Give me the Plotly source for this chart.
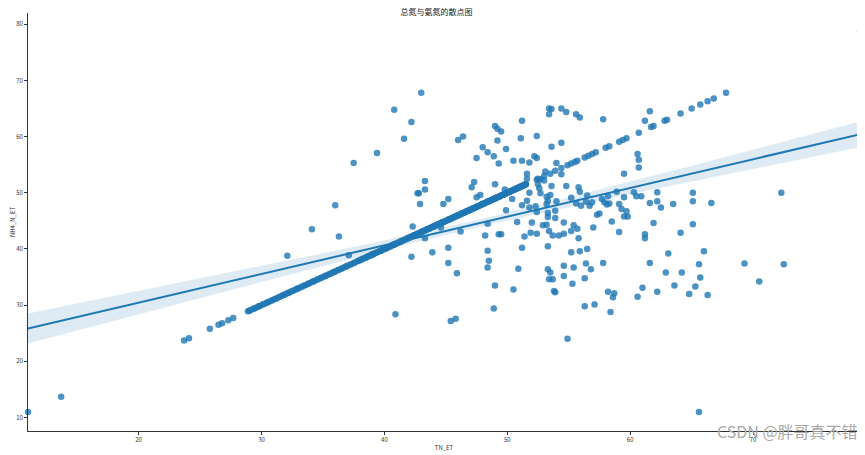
import numpy as np
import plotly.graph_objects as go

# points lying on the NH4 = TN diagonal
tn_line = [11.0, 13.7, 23.7, 24.1, 25.8, 26.5, 26.8, 27.3, 27.7,
           28.9, 29.1, 29.3, 29.5, 29.7, 29.9, 30.2, 30.4, 30.6, 30.9, 31.2,
           31.5, 31.7, 31.9, 32.1, 32.3, 32.6, 32.8, 33.0, 33.3, 33.5, 33.8,
           34.1, 34.3, 34.6, 34.9, 35.1, 35.3, 35.6, 35.8, 36.0, 36.3, 36.5,
           36.8, 37.0, 37.3, 37.5, 37.8, 38.0, 38.3, 38.5, 38.8, 39.0, 39.2,
           39.5, 39.7, 40.0, 40.2, 40.4, 40.7, 40.9, 41.2, 41.4, 41.7, 41.9,
           42.1, 42.4, 42.6, 42.9, 43.1, 43.4, 43.6, 43.9, 44.1, 44.3, 44.6,
           44.8, 45.1, 45.3, 45.6, 45.8, 46.0, 46.3, 46.5, 46.8, 47.0, 47.3,
           47.5, 47.7, 48.0, 48.2, 48.5, 48.7, 49.0, 49.2, 49.4, 49.7, 49.9,
           50.2, 50.4, 50.7, 50.9, 51.1, 51.3, 51.5,
           52.5, 53.0, 54.9, 55.2, 55.5, 55.7, 56.3, 56.6, 56.9, 57.2, 58.0,
           58.3, 59.1, 59.4, 59.7, 60.7, 61.7, 61.9, 62.8, 63.0, 64.1, 65.0,
           65.7, 66.3, 66.8, 67.8, 78.7]
# further passes over the dense part of the diagonal (overlapping markers)
tn_line2 = [29.0, 29.4, 29.8, 30.1, 30.5, 30.8, 31.1, 31.4, 31.8, 32.2, 32.5,
            32.9, 33.2, 33.6, 33.9, 34.2, 34.5, 34.8, 35.2, 35.5, 35.9, 36.2,
            36.6, 36.9, 37.2, 37.6, 37.9, 38.2, 38.6, 38.9, 39.1, 39.4, 39.8,
            40.1, 40.3, 40.6, 40.8, 41.1, 41.3, 41.6, 41.8, 42.0, 42.3, 42.5,
            42.8, 43.0, 43.3, 43.5, 43.8, 44.0, 44.2, 44.5, 44.7, 45.0, 45.2,
            45.5, 45.7, 45.9, 46.2, 46.4, 46.7, 46.9, 47.2, 47.4, 47.6, 47.9,
            48.1, 48.4, 48.6, 48.9, 49.1, 49.3, 49.6, 49.8, 50.1, 50.3, 50.6,
            50.8, 51.0, 51.2, 51.4, 51.5]
tn_line3 = [38.1, 38.7, 39.3, 39.9, 40.5, 41.0, 41.5, 42.2, 42.7, 43.2, 43.7,
            44.4, 44.9, 45.4, 46.1, 46.6, 47.1, 47.8, 48.3, 48.8, 49.5, 50.0,
            50.5, 51.0, 51.3, 51.4, 51.5, 50.9, 50.3, 49.8, 49.2, 48.6, 48.1,
            47.6, 47.0, 46.4, 45.9, 45.3, 44.7, 44.2, 43.6, 43.1, 42.5, 42.0,
            41.4, 40.8, 40.3, 39.7, 39.1, 38.5, 51.2, 50.8, 50.6, 50.1, 49.6,
            49.3, 48.9, 48.5, 48.0, 47.4, 46.9, 46.3, 45.7, 45.2, 44.6, 44.0,
            43.5, 42.9, 42.4, 41.9, 41.3, 40.7, 40.1, 39.6, 39.0, 51.1, 50.7,
            50.2, 49.7, 49.0, 48.4, 47.9, 47.2, 46.7, 46.0, 45.5, 44.8, 44.3]
nh4_line = list(tn_line)
nh4_line2 = list(tn_line2)
nh4_line3 = list(tn_line3)

# scattered points
tn_sc = [43.0, 42.2, 41.6, 53.4, 53.6, 53.4, 54.4, 54.8, 55.6, 55.9, 57.8, 61.6, 61.2,
         51.2, 49.0, 49.2, 49.5, 46.0, 46.4, 51.1, 52.4, 49.2, 48.0, 48.4, 47.5, 48.9,
         49.9, 49.3, 50.5, 51.2, 51.8, 52.2, 52.4, 53.6, 54.4, 54.0, 54.4, 60.6, 60.7,
         60.7, 59.5, 51.6, 51.6, 53.1, 53.5, 53.9, 54.4, 52.4, 52.7, 53.0, 52.5, 52.6,
         52.7, 53.6, 54.8, 55.8, 55.9, 43.3, 43.3, 42.7, 42.9, 47.3, 47.1, 47.5, 47.8,
         49.0, 49.8, 44.8, 45.2, 42.3, 42.2, 43.3, 43.9, 44.6, 45.2, 45.2, 45.9, 46.2,
         45.4, 45.8, 48.4, 48.2, 48.4, 48.5, 48.4, 49.3, 49.5, 49.0, 48.9, 49.9, 50.4,
         50.8, 51.2, 51.2, 50.9, 50.5, 51.4, 51.6, 51.8, 51.8, 52.0, 51.9, 52.3, 52.4,
         52.4, 52.9, 53.2, 53.2, 53.3, 53.2, 53.5, 53.3, 53.3, 53.9, 53.9, 53.4, 53.7,
         54.2, 54.6, 54.6, 54.0, 53.3, 53.3, 53.5, 53.4, 53.7, 53.8, 53.9, 54.6, 54.6,
         54.9, 55.3, 55.4, 55.2, 55.2, 55.4, 55.7, 55.8, 55.9, 55.2, 55.6, 56.0, 56.4,
         56.3, 56.5, 56.8, 56.3, 57.1, 56.4, 56.5, 56.7, 56.9, 57.0, 57.3, 57.5, 57.7,
         57.9, 58.1, 58.2, 58.3, 57.8, 58.5, 59.1, 58.2, 58.7, 58.6, 58.4, 58.9, 59.1,
         59.3, 59.5, 59.5, 59.7, 59.8, 60.3, 60.5, 60.9, 61.6, 61.9, 62.2, 62.2, 62.5,
         63.5, 61.2, 61.2, 61.6, 61.0, 60.6, 62.2, 62.9, 63.1, 64.1, 64.2, 63.6, 64.8,
         65.3, 65.6, 65.7, 66.0, 66.3, 65.1, 65.1, 65.1, 66.6, 65.6, 69.3, 70.5, 72.3,
         72.5, 32.1, 34.1, 36.0, 36.3, 37.1, 37.5, 39.4, 40.8, 40.9, 42.8]
nh4_sc = [67.8, 62.6, 59.6, 65.0, 64.9, 64.0, 65.0, 64.4, 64.0, 63.4, 63.1, 64.5, 62.8,
          62.8, 61.9, 61.4, 60.9, 59.4, 60.0, 59.7, 60.1, 59.3, 58.1, 57.2, 56.2, 56.5,
          57.8, 55.2, 55.7, 55.7, 55.4, 56.5, 56.2, 58.2, 58.9, 55.3, 54.4, 56.9, 55.9,
          54.5, 53.4, 53.4, 52.5, 53.8, 53.4, 53.9, 53.3, 52.3, 52.4, 52.2, 51.5, 50.8,
          49.9, 51.2, 51.2, 51.0, 50.2, 52.1, 50.6, 49.9, 48.0, 51.9, 51.0, 49.2, 49.6,
          51.5, 50.6, 48.0, 48.9, 44.0, 38.6, 41.9, 39.4, 43.8, 40.2, 37.5, 35.7, 43.1,
          27.2, 27.6, 44.5, 42.4, 39.7, 37.9, 36.7, 42.6, 42.6, 33.5, 29.4, 46.9, 48.9,
          44.8, 47.8, 40.2, 36.5, 32.8, 42.2, 48.6, 50.0, 47.4, 44.7, 42.9, 47.6, 46.6,
          42.7, 44.2, 44.3, 49.3, 48.6, 48.0, 49.6, 46.4, 45.7, 46.8, 45.5, 43.2, 42.4,
          42.4, 42.7, 44.7, 48.5, 40.5, 36.4, 35.8, 34.6, 34.6, 32.5, 32.3, 37.0, 35.2,
          24.0, 33.8, 36.7, 39.4, 43.2, 44.2, 43.6, 41.9, 39.6, 49.1, 48.1, 47.7, 37.4,
          34.8, 40.0, 36.4, 29.8, 30.1, 48.4, 49.5, 47.7, 48.3, 43.8, 46.1, 46.3, 48.9,
          48.3, 47.9, 49.4, 48.1, 37.5, 44.9, 43.0, 32.4, 32.1, 31.4, 28.8, 50.2, 48.0,
          47.1, 49.2, 45.8, 46.7, 45.8, 50.1, 49.4, 49.4, 48.2, 44.6, 50.1, 48.5, 47.4,
          48.0, 42.6, 41.9, 37.5, 33.1, 31.5, 32.4, 35.8, 39.2, 42.9, 35.8, 33.5, 32.0,
          33.3, 37.3, 34.9, 39.6, 31.8, 50.0, 48.5, 44.4, 48.2, 11.0, 37.4, 34.2, 50.0,
          37.3, 38.8, 43.5, 47.8, 42.2, 38.9, 55.3, 57.1, 64.8, 28.4, 49.9]

x = np.array(tn_line + tn_line2 + tn_line3 + tn_sc)
y = np.array(nh4_line + nh4_line2 + nh4_line3 + nh4_sc)

# linear fit with 95% confidence band, like seaborn regplot
b, a = np.polyfit(x, y, 1)
xs = np.linspace(x.min(), x.max(), 100)
ys = a + b * xs
n = len(x)
resid = y - (a + b * x)
s = np.sqrt((resid ** 2).sum() / (n - 2))
se = s * np.sqrt(1 / n + (xs - x.mean()) ** 2 / ((x - x.mean()) ** 2).sum())
ci = 1.97 * se

blue = '#1f77b4'
fig = go.Figure()
fig.add_trace(go.Scatter(x=x, y=y, mode='markers', cliponaxis=False,
                         marker=dict(color=blue, size=6.5, opacity=0.8)))
fig.add_trace(go.Scatter(x=np.concatenate([xs, xs[::-1]]),
                         y=np.concatenate([ys + ci, (ys - ci)[::-1]]),
                         fill='toself', fillcolor='rgba(31,119,180,0.15)',
                         line=dict(width=0), mode='lines', hoverinfo='skip'))
fig.add_trace(go.Scatter(x=xs, y=ys, mode='lines', line=dict(color=blue, width=2)))

axis_style = dict(showgrid=False, zeroline=False, showline=True, linecolor='#333',
                  linewidth=1, ticks='outside', ticklen=3, tickcolor='#333', automargin=False,
                  tickfont=dict(size=6, color='#333'), title_font=dict(size=6, color='#333'))
fig.update_xaxes(range=[11.0, 78.7], dtick=10, title_text='TN_ET', title_standoff=2, **axis_style)
fig.update_yaxes(range=[7.6, 82], dtick=10, title_text='NH4_N_ET', title_standoff=2, **axis_style)
# page has an 8px body margin, so the figure is sized to fit inside it
fig.update_layout(
    width=857, height=447, showlegend=False,
    plot_bgcolor='white', paper_bgcolor='white',
    margin=dict(l=20, r=5, t=5, b=24),
    font=dict(family='Noto Sans CJK SC, DejaVu Sans'),
    title=dict(text='总氮与氨氮的散点图', x=0.5, y=0.998, xanchor='center', yanchor='top',
               font=dict(size=8, color='#222')),
    annotations=[dict(text='CSDN @胖哥真不错', xref='paper', yref='paper', x=1.0, y=0.0,
                      xanchor='right', yanchor='middle', showarrow=False,
                      font=dict(size=16, color='#aaa'))],
)
fig.write_html('out.html')
